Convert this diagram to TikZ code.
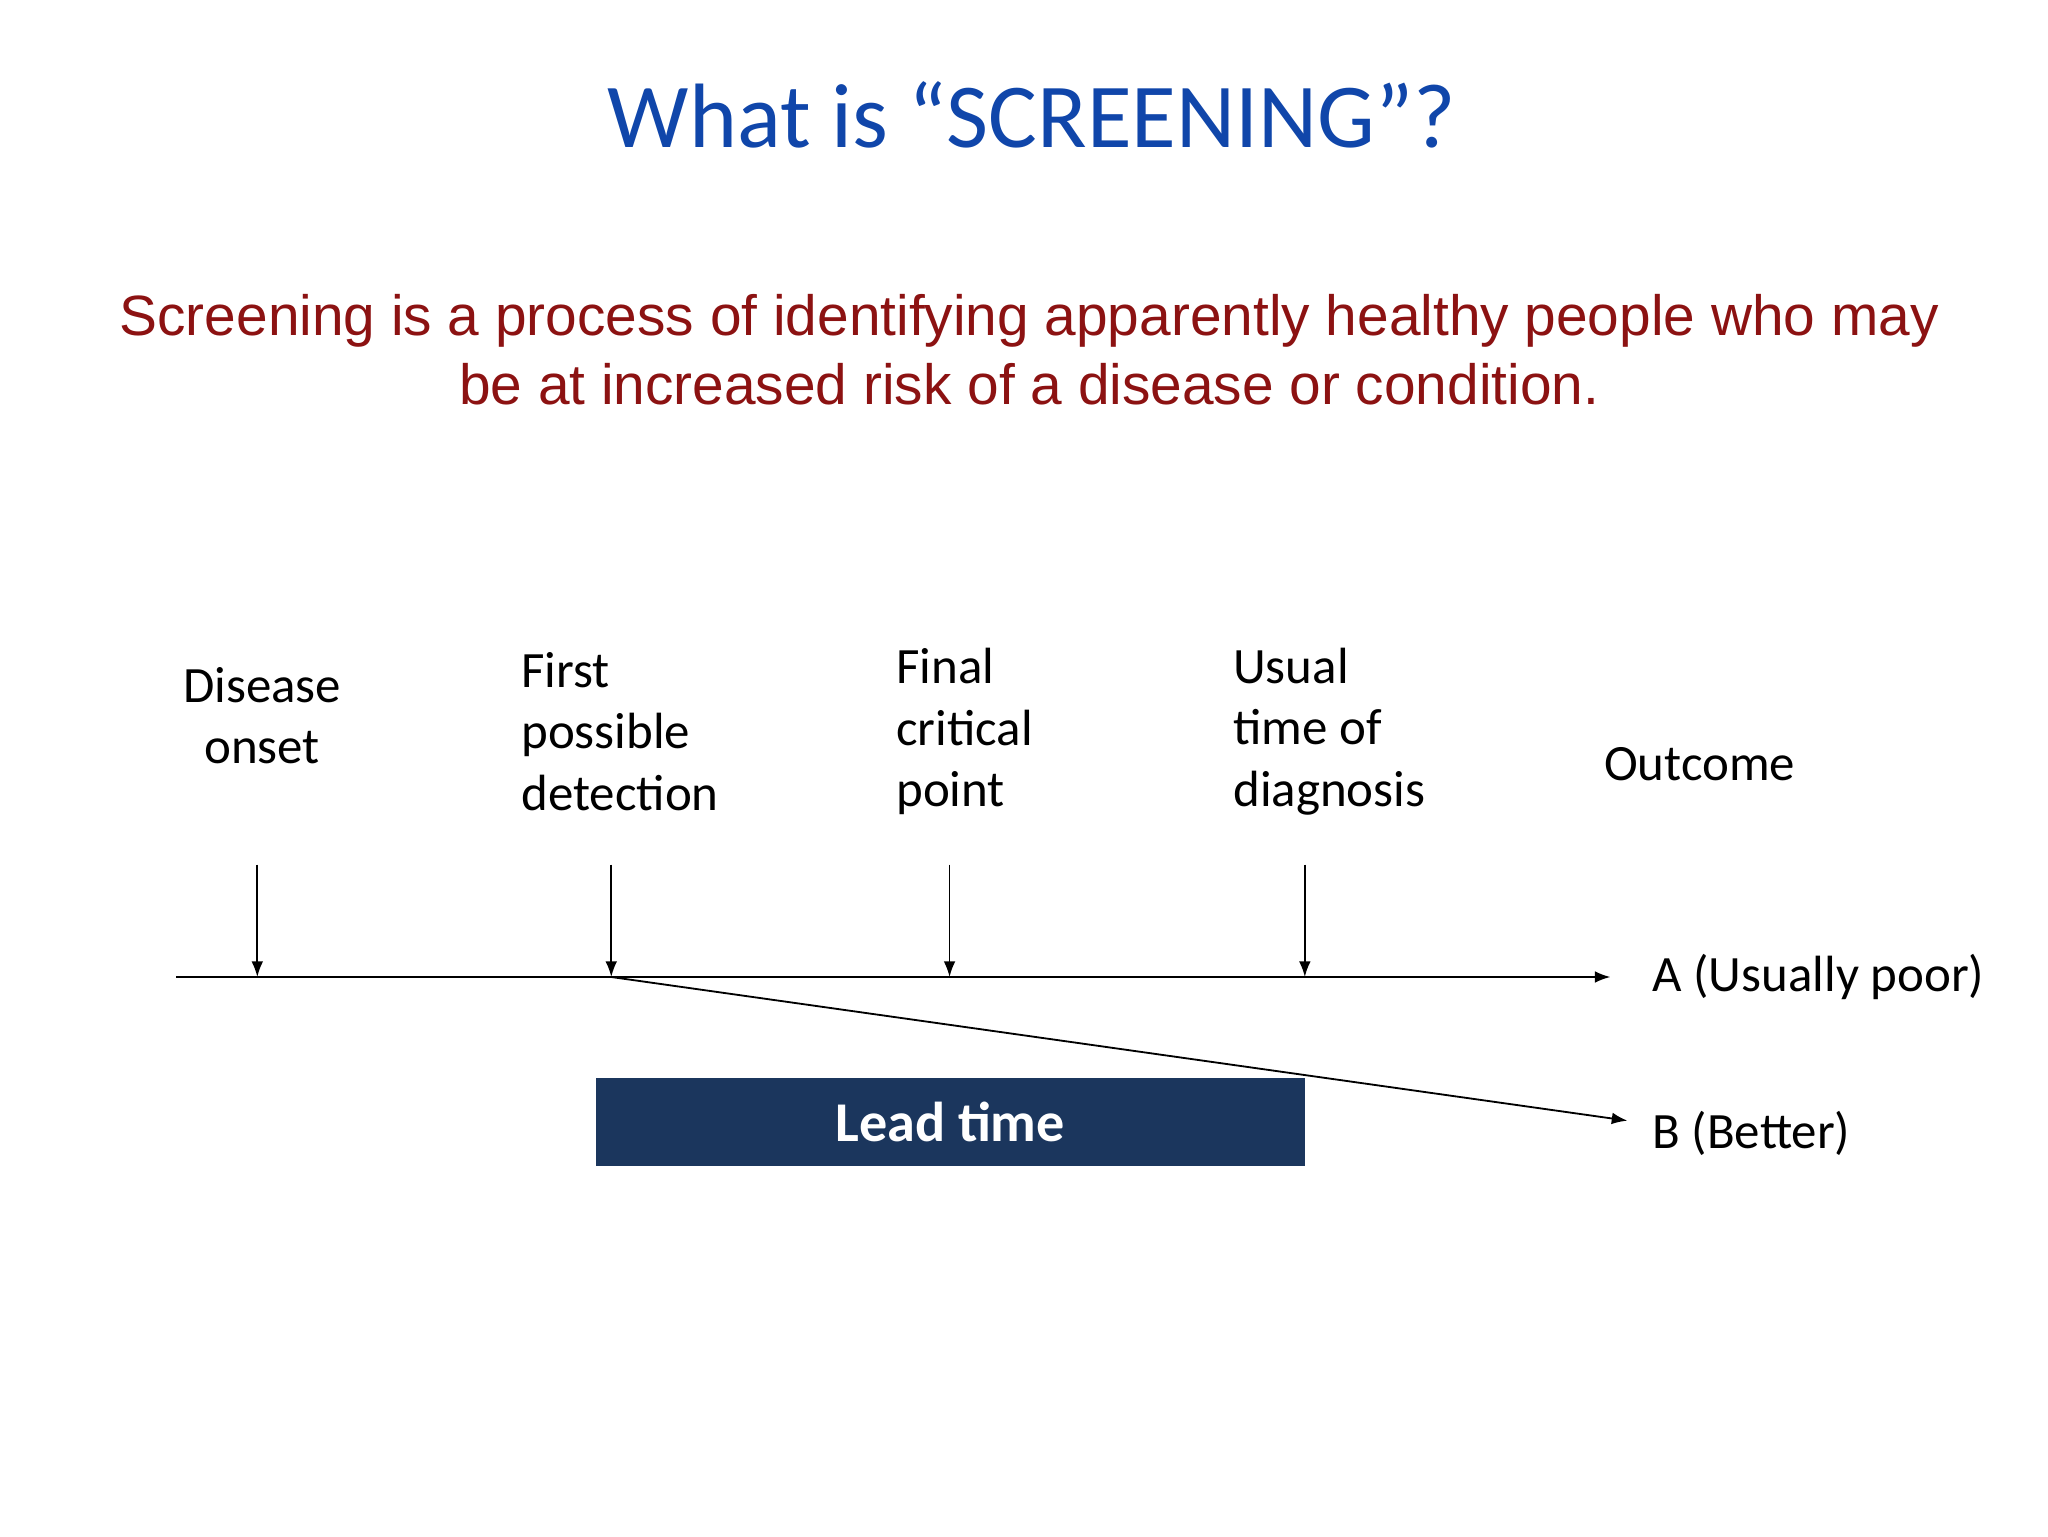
\documentclass[tikz,border=0pt]{standalone}
\usepackage{fontspec}
\setmainfont{Carlito}
\newfontfamily\arialf{Liberation Sans}
\usetikzlibrary{arrows.meta}
\definecolor{titleblue}{RGB}{16,70,170}
\definecolor{darkred}{RGB}{140,18,18}
\definecolor{navy}{RGB}{27,54,93}
\tikzset{
  lbl/.style={anchor=west,align=left,font=\fontsize{39}{47}\selectfont,inner sep=0pt},
  arr/.style={-{Latex[length=12pt,width=9pt]},line width=1.4pt},
}
\begin{document}
\begin{tikzpicture}[x=1pt,y=-1pt]
\useasboundingbox (0,0) rectangle (1568,1176);
\node[font=\fontsize{70}{76}\selectfont,text=titleblue] (title) at (790,88) {What is “SCREENING”?};
\node[font=\arialf\fontsize{43.5}{53}\selectfont,text=darkred,align=center] (def) at (788,268)
 {Screening is a process of identifying apparently healthy people who may\\be at increased risk of a disease or condition.};
\node[lbl,align=center] (l1) at (140,548) {Disease\\onset};
\node[lbl] (l2) at (399,560) {First\\possible\\detection};
\node[lbl] (l3) at (686,560) {Final\\critical\\point};
\node[lbl] (l4) at (944,560) {Usual\\time of\\diagnosis};
\node[lbl] (l5) at (1228,585) {Outcome};
\coordinate (s) at (135,748);
\coordinate (e) at (1233,748);
\coordinate (d) at (468,748);
\coordinate (f) at (1246,858);
\foreach \x/\n in {197/a,468/b,727/c,999/dd}{
  \coordinate (t\n) at (\x,662);
  \coordinate (h\n) at (\x,748);
  \draw[arr] (t\n) -- (h\n);
}
\draw[arr] (s) -- (e);
\draw[arr] (d) -- (f);
\node[lbl] (A) at (1265,748) {A (Usually poor)};
\node[lbl] (B) at (1265,868) {B (Better)};
\node[fill=navy,minimum width=543pt,minimum height=68pt,inner sep=0pt,text=white,font=\fontsize{43}{48}\selectfont\bfseries] (lead) at (727.5,859) {Lead time};
\end{tikzpicture}
\end{document}
